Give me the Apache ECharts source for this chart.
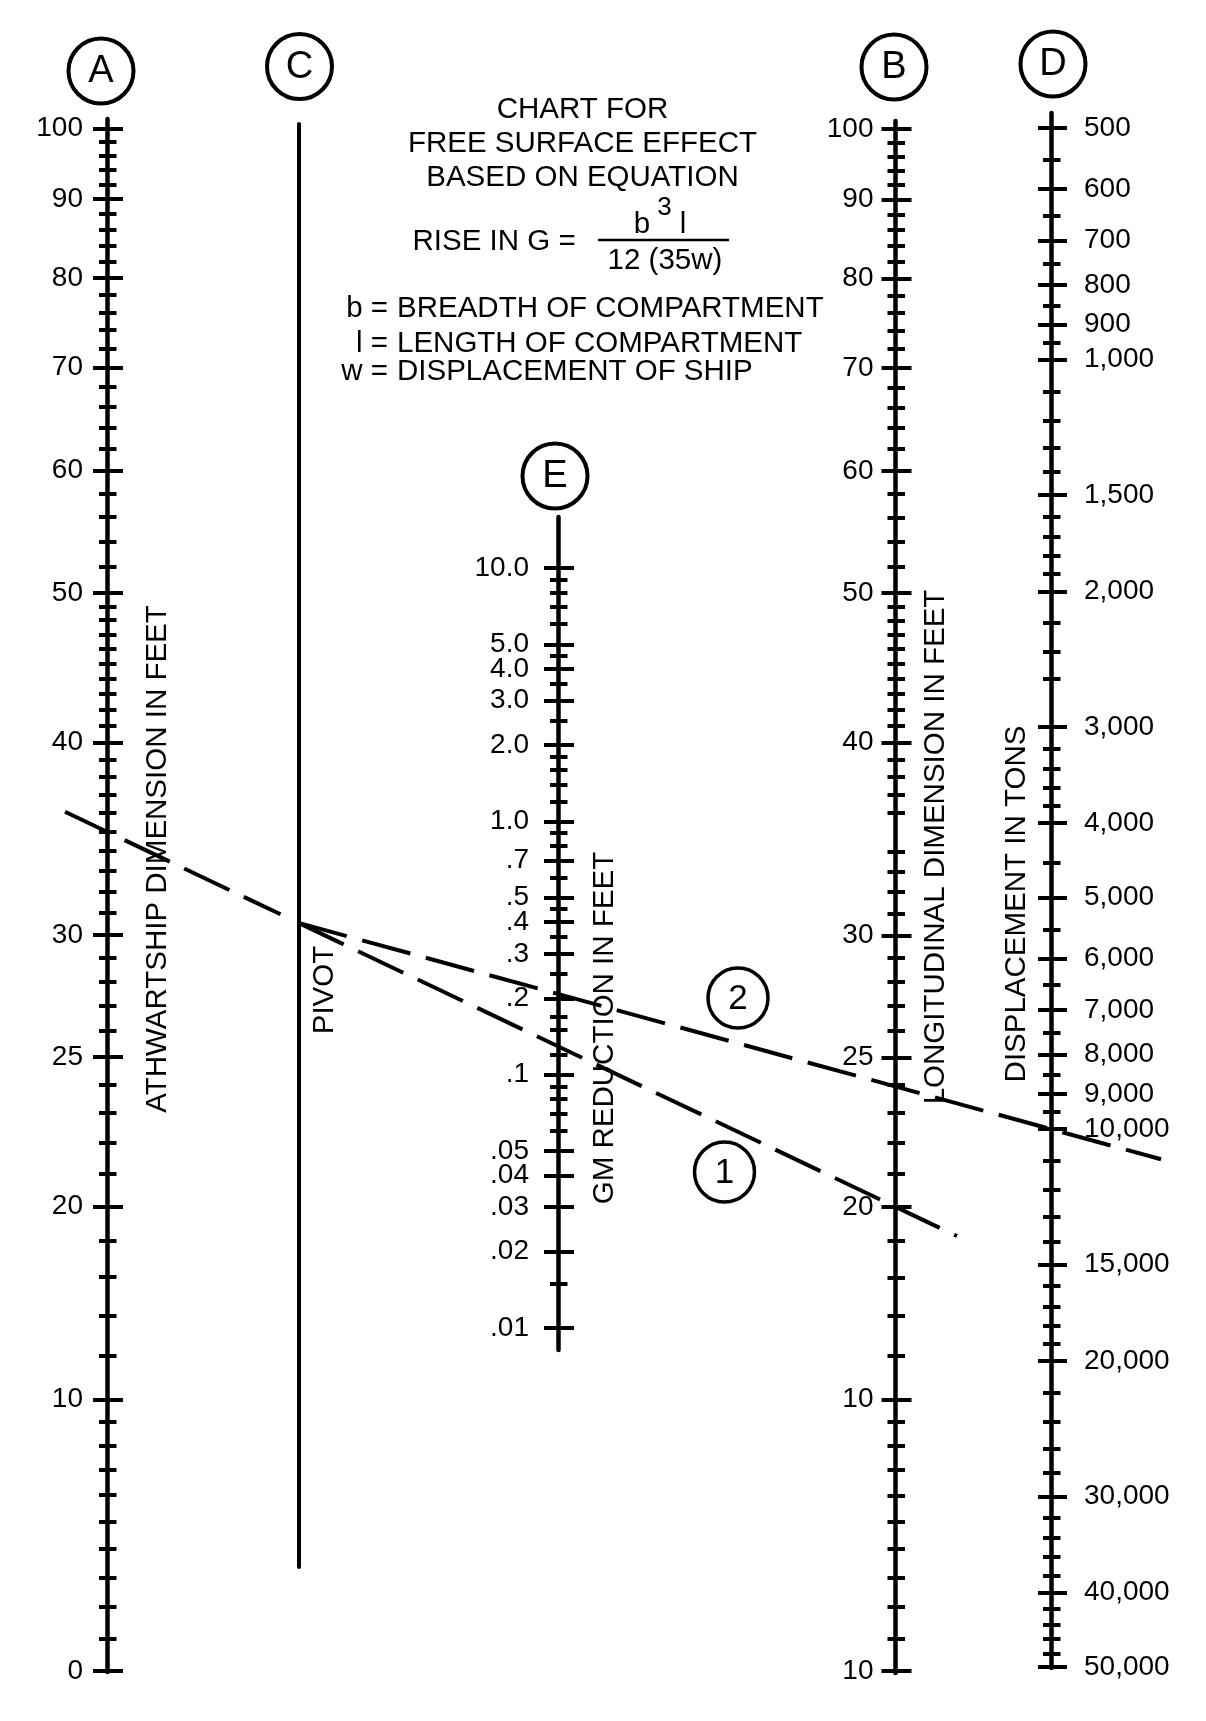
<!DOCTYPE html>
<html><head><meta charset="utf-8">
<script src="https://cdn.jsdelivr.net/npm/echarts@6/dist/echarts.min.js"></script>
<style>html,body{margin:0;padding:0;background:#fff}#c{width:1206px;height:1721px}</style>
</head><body><div id="c"></div>
<script>
// ================= DATA =================
// Scale A : athwartship dimension (b), feet
const aMajor  = [100, 90, 80, 70, 60, 50, 40, 30, 25, 20, 15, 10];
const aLabels = ['100','90','80','70','60','50','40','30','25','20','10','0'];
const aMinor  = [98,96,94,92, 88,86,84,82, 78,76,74,72, 68,66,64,62, 58,56,54,52,
                 49,48,47,46,45,44,43,42,41, 39,38,37,36,35,34,33,32,31,
                 29,28,27,26, 24,23,22,21, 19,18,17,16,
                 14.5,14,13.5,13,12.5,12,11.5,11,10.5];
// Scale B : longitudinal dimension (l), feet
const bMajor  = [100, 90, 80, 70, 60, 50, 40, 30, 25, 20, 15, 10];
const bLabels = ['100','90','80','70','60','50','40','30','25','20','10','10'];
const bMinor  = [98,96,94,92, 88,86,84,82, 78,76,74,72, 68,66,64,62, 58,56,54,52,
                 49,48,47,46,45,44,43,42,41, 39,38,37,36,34,33,32,31,
                 29,28,27,26, 24,23,22,21, 19,18,17,16,
                 14.5,14,13.5,13,12.5,12,11.5,11,10.5];
// Scale D : displacement (w), tons
const dMajor  = [500,600,700,800,900,1000,1500,2000,3000,4000,5000,6000,7000,8000,9000,
                 10000,15000,20000,30000,40000,50000];
const dLabels = ['500','600','700','800','900','1,000','1,500','2,000','3,000','4,000','5,000',
                 '6,000','7,000','8,000','9,000','10,000','15,000','20,000','30,000','40,000','50,000'];
const dMinor  = [550,650,750,850,950, 1100,1200,1300,1400, 1600,1700,1800,1900, 2200,2400,2600,
                 3200,3400,3600,3800, 4500, 5500, 6500, 7500, 8500, 9500,
                 11000,12000,13000,14000, 16000,17000,18000,19000, 22000,24000,26000,28000,
                 32000,34000,36000,38000, 42000,44000,46000,48000];
// Scale E : GM reduction, feet
const eMajor  = [10, 5, 4, 3, 2, 1, 0.7, 0.5, 0.4, 0.3, 0.2, 0.1, 0.05, 0.04, 0.03, 0.02, 0.01];
const eLabels = ['10.0','5.0','4.0','3.0','2.0','1.0','.7','.5','.4','.3','.2','.1','.05','.04','.03','.02','.01'];
const eMinor  = [9,8,7,6, 4.5, 3.5, 2.5, 1.8,1.6,1.4,1.2, 0.9,0.8, 0.6, 0.45, 0.35, 0.25,
                 0.17,0.15,0.12, 0.09,0.08,0.07,0.06, 0.015];
// Example solutions
const example1 = { A: 35, B: 20 };      // b = 35 ft, l = 20 ft -> pivot on C
const example2 = { D: 10000 };          // pivot -> w = 10,000 tons -> reads on E

// Texts
const titleLines = ['CHART FOR', 'FREE SURFACE EFFECT', 'BASED ON EQUATION'];
const defVars  = ['b =', 'l =', 'w ='];
const defTexts = ['BREADTH OF COMPARTMENT', 'LENGTH OF COMPARTMENT', 'DISPLACEMENT OF SHIP'];

// ================= LAYOUT =================
const FONT = 'Liberation Sans, Arial, Helvetica, sans-serif';
const S = {
  A: {x:107,   top:119, bottom:1672, v1:100, y1:128.5, v2:10,    y2:1671, side:'left',  margin:24},
  B: {x:895.5, top:121, bottom:1673, v1:100, y1:129,   v2:10,    y2:1671, side:'left',  margin:22},
  D: {x:1051,  top:113, bottom:1668, v1:500, y1:128,   v2:50000, y2:1667, side:'right', margin:33},
  E: {x:558,   top:517, bottom:1350, v1:10,  y1:568,   v2:0.01,  y2:1328, side:'left',  margin:29}
};
const C = {x:298.5, top:124, bottom:1567};

const L = v => Math.log10(v);
const grids = [], xAxes = [], yAxes = [], series = [];
const axisIdx = {};

function addScale(name, s, major, labels, minor) {
  const gi = grids.length;
  const k = (s.y2 - s.y1) / (L(s.v2) - L(s.v1));
  const lTop = L(s.v1) + (s.top - s.y1) / k;
  const lBot = L(s.v1) + (s.bottom - s.y1) / k;
  const inverse = lTop < lBot;
  const min = Math.min(lTop, lBot), max = Math.max(lTop, lBot);
  grids.push({left: s.x, top: s.top, width: 30, height: s.bottom - s.top, containLabel: false, outerBoundsMode: 'none'});
  xAxes.push({gridIndex: gi, type: 'value', show: false, min: 0, max: 1});
  const majorL = major.map(L), minorL = minor.map(L);
  const base = {gridIndex: gi, type: 'value', min, max, inverse, position: 'left', offset: 0,
                splitLine: {show: false}, axisPointer: {show: false}};
  axisIdx[name] = yAxes.length;
  yAxes.push(Object.assign({}, base, {
    axisLine: {show: true, onZero: false, lineStyle: {color: '#000', width: 4.5}},
    axisTick: {show: true, customValues: majorL, length: s.side === 'right' ? 13 : 14, inside: false, lineStyle: {color: '#000', width: 4}},
    axisLabel: {show: true, customValues: majorL, inside: s.side === 'right', margin: s.margin,
      color: '#000', fontSize: 28, fontFamily: FONT,
      formatter: v => { const i = majorL.findIndex(m => Math.abs(m - v) < 1e-6); return i >= 0 ? labels[i] : ''; }}
  }));
  yAxes.push(Object.assign({}, base, {
    axisLine: {show: false},
    axisTick: {show: true, customValues: majorL, length: 16, inside: true, lineStyle: {color: '#000', width: 4}},
    axisLabel: {show: false}
  }));
  yAxes.push(Object.assign({}, base, {
    axisLine: {show: false},
    axisTick: {show: true, customValues: minorL, length: 8, inside: false, lineStyle: {color: '#000', width: 4}},
    axisLabel: {show: false}
  }));
  yAxes.push(Object.assign({}, base, {
    axisLine: {show: false},
    axisTick: {show: true, customValues: minorL, length: 9.5, inside: true, lineStyle: {color: '#000', width: 4}},
    axisLabel: {show: false}
  }));
  series.push({type: 'line', xAxisIndex: gi, yAxisIndex: axisIdx[name], data: [], silent: true});
}

addScale('A', S.A, aMajor, aLabels, aMinor);
addScale('B', S.B, bMajor, bLabels, bMinor);
addScale('D', S.D, dMajor, dLabels, dMinor);
addScale('E', S.E, eMajor, eLabels, eMinor);

// Pivot line C (plain axis line, no graduations)
(function () {
  const gi = grids.length;
  grids.push({left: C.x, top: C.top, width: 30, height: C.bottom - C.top, containLabel: false, outerBoundsMode: 'none'});
  xAxes.push({gridIndex: gi, type: 'value', show: false, min: 0, max: 1});
  axisIdx.C = yAxes.length;
  yAxes.push({gridIndex: gi, type: 'value', min: 0, max: 1, position: 'left',
    axisLine: {show: true, onZero: false, lineStyle: {color: '#000', width: 4}},
    axisTick: {show: false}, axisLabel: {show: false}, splitLine: {show: false}});
  series.push({type: 'line', xAxisIndex: gi, yAxisIndex: axisIdx.C, data: [], silent: true});
})();

const chart = echarts.init(document.getElementById('c'), null, {renderer: 'canvas', width: 1206, height: 1721});
chart.setOption({
  backgroundColor: '#fff',
  animation: false,
  grid: grids, xAxis: xAxes, yAxis: yAxes, series: series
});

// ================= OVERLAY (texts, circles, example lines) =================
const g = [];
function txt(text, x, y, size, align, rot) {
  g.push({type: 'text', x: x, y: y, rotation: rot || 0, z: 50,
    style: {text: text, fill: '#000', fontSize: size, fontFamily: FONT,
      textAlign: align || 'center', textVerticalAlign: 'middle', align: align || 'center', verticalAlign: 'middle'}});
}
function circ(label, cx, cy, r, size, lw) {
  g.push({type: 'circle', z: 50, shape: {cx: cx, cy: cy, r: r}, style: {fill: '#fff', stroke: '#000', lineWidth: lw}});
  g.push({type: 'text', x: cx, y: cy + 1, z: 51,
    style: {text: label, fill: '#000', fontSize: size, fontFamily: FONT,
      textAlign: 'center', textVerticalAlign: 'middle', align: 'center', verticalAlign: 'middle'}});
}

// title
const titleY = [110, 144, 178];
titleLines.forEach((t, i) => txt(t, 582.5, titleY[i], 29.5, 'center'));
// equation
txt('RISE IN G =', 412.5, 242, 29.5, 'left');
txt('b', 642, 225, 29.5, 'center');
txt('3', 664.5, 208, 26, 'center');
txt('l', 683, 225, 29.5, 'center');
g.push({type: 'line', z: 50, shape: {x1: 598, y1: 240, x2: 729, y2: 240}, style: {stroke: '#000', lineWidth: 2.5}});
txt('12 (35w)', 665, 261, 29.5, 'center');
// definitions
const defY = [309, 344, 372];
defVars.forEach((t, i) => { txt(t, 388, defY[i], 29.5, 'right'); txt(defTexts[i], 397, defY[i], 29.5, 'left'); });

// axis titles (vertical)
const R = Math.PI / 2;
txt('ATHWARTSHIP DIMENSION IN FEET', 157.5, 859, 29.5, 'center', R);
txt('LONGITUDINAL DIMENSION IN FEET', 936, 847, 29.5, 'center', R);
txt('DISPLACEMENT IN TONS', 1017, 904, 29.5, 'center', R);
txt('GM REDUCTION IN FEET', 605, 1028, 29.5, 'center', R);
txt('PIVOT', 325, 990, 29.5, 'center', R);

// example lines through the scales (positions from the library's axes)
const yA = chart.convertToPixel({yAxisIndex: axisIdx.A}, L(example1.A));
const yB = chart.convertToPixel({yAxisIndex: axisIdx.B}, L(example1.B));
const yD = chart.convertToPixel({yAxisIndex: axisIdx.D}, L(example2.D));
const m1 = (yB - yA) / (S.B.x - S.A.x);
const y1At = x => yA + m1 * (x - S.A.x);
const yPivot = y1At(C.x);
const m2 = (yD - yPivot) / (S.D.x - C.x);
const y2At = x => yPivot + m2 * (x - C.x);
const dash = {stroke: '#000', lineWidth: 4, lineDash: [50, 16], lineCap: 'butt'};
const l1Start = 65, l1End = 957, l2End = 1161;
g.push({type: 'line', z: 60, shape: {x1: l1Start, y1: y1At(l1Start), x2: C.x - 18, y2: y1At(C.x - 18)}, style: dash});
g.push({type: 'line', z: 60, shape: {x1: C.x, y1: yPivot, x2: l1End, y2: y1At(l1End)}, style: dash});
g.push({type: 'line', z: 60, shape: {x1: C.x, y1: yPivot, x2: l2End, y2: y2At(l2End)}, style: dash});

// circled letters / numbers
circ('A', 101, 71, 32.5, 38, 4);
circ('C', 299.5, 66.5, 32.5, 38, 4);
circ('B', 894, 67, 32.5, 38, 4);
circ('D', 1053, 64, 32.5, 38, 4);
circ('E', 555, 476, 32.5, 38, 4);
circ('1', 724.5, 1172, 30, 35, 3.5);
circ('2', 738, 998, 30, 35, 3.5);

chart.setOption({graphic: {elements: g}});
</script>
</body></html>
